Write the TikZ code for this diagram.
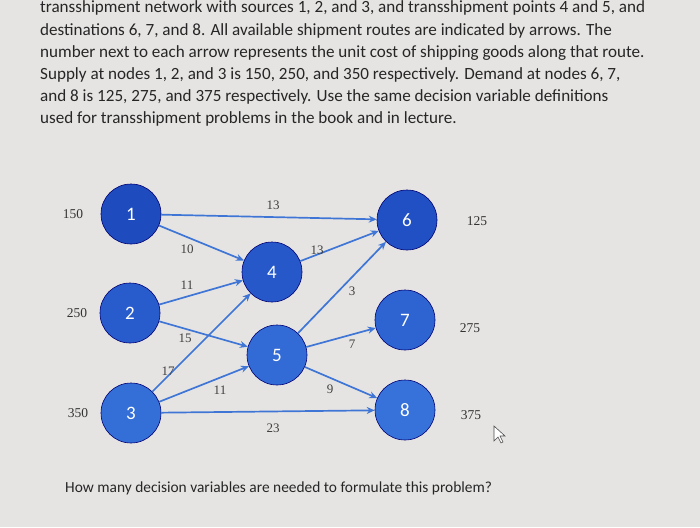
\documentclass[tikz,border=0pt]{standalone}
\usepackage{fontspec}
\setmainfont{Liberation Serif}
\newfontfamily\txt{Carlito}
\begin{document}
\begin{tikzpicture}[x=1pt,y=-1pt,
  nd/.style={circle,minimum size=60pt,inner sep=0pt,text=white,draw=blue!45!black,line width=0.6pt,font=\txt\fontsize{19}{19}\selectfont},
  ed/.style={draw=edgeblue,line width=1.7pt,-{Stealth[length=8pt,width=7pt]}},
  lb/.style={text=black!75,font=\fontsize{13}{13}\selectfont},
  sl/.style={text=black!80,font=\fontsize{13.5}{13.5}\selectfont},
  para/.style={anchor=west,inner sep=0pt,text=black!85,font=\txt\fontsize{17.1}{17}\selectfont}]
\usetikzlibrary{arrows.meta}
\definecolor{edgeblue}{HTML}{3F76D6}
\definecolor{bgc}{HTML}{E6E4E3}
\fill[bgc] (0,0) rectangle (700,527);
\useasboundingbox (0,0) rectangle (700,527);
\node[para] (t1) at (40,8) {transshipment network with sources 1, 2, and 3, and transshipment points 4 and 5, and};
\node[para] (t2) at (40,31) {destinations 6, 7, and 8. All available shipment routes are indicated by arrows. The};
\node[para] (t3) at (40,53) {number next to each arrow represents the unit cost of shipping goods along that route.};
\node[para] (t4) at (40,75) {Supply at nodes 1, 2, and 3 is 150, 250, and 350 respectively. Demand at nodes 6, 7,};
\node[para] (t5) at (40,97) {and 8 is 125, 275, and 375 respectively. Use the same decision variable definitions};
\node[para] (t6) at (40,119) {used for transshipment problems in the book and in lecture.};
\node[para,font=\txt\fontsize{15.4}{15}\selectfont] (q) at (65,488) {How many decision variables are needed to formulate this problem?};
\node[nd,fill={rgb,255:red,30;green,76;blue,190}] (n1) at (131,214) {1};
\node[nd,fill={rgb,255:red,40;green,92;blue,205}] (n2) at (130,313) {2};
\node[nd,fill={rgb,255:red,52;green,110;blue,215}] (n3) at (131,413) {3};
\node[nd,fill={rgb,255:red,38;green,88;blue,202}] (n4) at (272,272) {4};
\node[nd,fill={rgb,255:red,50;green,106;blue,214}] (n5) at (277,355) {5};
\node[nd,fill={rgb,255:red,32;green,80;blue,195}] (n6) at (407,220) {6};
\node[nd,fill={rgb,255:red,45;green,100;blue,210}] (n7) at (405,320) {7};
\node[nd,fill={rgb,255:red,55;green,114;blue,218}] (n8) at (405,410) {8};
\draw[ed] (n1) -- (n6);
\draw[ed] (n1) -- (n4);
\draw[ed] (n2) -- (n4);
\draw[ed] (n2) -- (n5);
\draw[ed] (n3) -- (n4);
\draw[ed] (n3) -- (n5);
\draw[ed] (n3) -- (n8);
\draw[ed] (n4) -- (n6);
\draw[ed] (n5) -- (n6);
\draw[ed] (n5) -- (n7);
\draw[ed] (n5) -- (n8);
\node[lb] (c16) at (273,205) {13};
\node[lb] (c14) at (187,249) {10};
\node[lb] (c24) at (187,285) {11};
\node[lb] (c46) at (317,250) {13};
\node[lb] (c56) at (352,291) {3};
\node[lb] (c25) at (185,338) {15};
\node[lb] (c34) at (168,371) {17};
\node[lb] (c35) at (220,390) {11};
\node[lb] (c57) at (352,344) {7};
\node[lb] (c58) at (330,389) {9};
\node[lb] (c38) at (273,428) {23};
\node[sl] (s1) at (73,214) {150};
\node[sl] (s2) at (77,313) {250};
\node[sl] (s3) at (78,413) {350};
\node[sl] (d6) at (477,221) {125};
\node[sl] (d7) at (470,328) {275};
\node[sl] (d8) at (471,415) {375};
\draw[black!70,line width=0.6pt,fill=white] (494,426) -- (494,441) -- (498,437) -- (501,443) -- (503,442) -- (500,436) -- (505,436) -- cycle;
\end{tikzpicture}
\end{document}
